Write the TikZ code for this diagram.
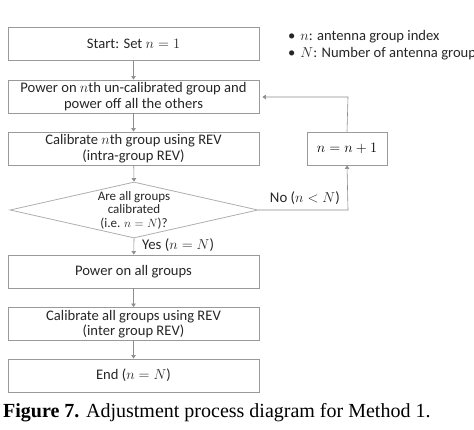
\documentclass[tikz,border=0pt]{standalone}
\usepackage{fontspec}
\setmainfont{Carlito}
\newfontfamily\capfont{Liberation Serif}
\usetikzlibrary{arrows.meta,shapes.geometric}
\definecolor{boxgray}{HTML}{9A9A9A}
\definecolor{linegray}{HTML}{8C8C8C}
\tikzset{
  flowbox/.style={draw=boxgray, line width=0.9pt, rectangle, minimum width=251pt, minimum height=33pt, inner sep=0pt, align=center, font=\fontsize{14.6}{15.5}\selectfont, text=black!85},
  incbox/.style={draw=boxgray, line width=0.9pt, rectangle, minimum width=80pt, minimum height=33pt, inner sep=0pt, align=center, font=\fontsize{15}{16}\selectfont},
  decision/.style={draw=boxgray!80, line width=0.8pt, diamond, aspect=4.43, minimum width=248pt, minimum height=56pt, inner sep=0pt, align=center, font=\fontsize{13}{13.5}\selectfont, text=black!85},
  flowarrow/.style={draw=linegray, line width=0.6pt, -{Triangle[width=4.5pt,length=3.5pt]}},
  lbl/.style={font=\fontsize{14.8}{15}\selectfont, text=black!85, inner sep=0pt},
  legend/.style={font=\fontsize{14.6}{15}\selectfont, text=black!85, anchor=base west, inner sep=0pt}
}
\begin{document}
\begin{tikzpicture}[x=1pt,y=-1pt]
\useasboundingbox (0,0) rectangle (474,430);
\clip (0,0) rectangle (474,430);
\node[flowbox] (start) at (133.5,44) {Start: Set $n=1$};
\node[flowbox] (power) at (133.5,96.5) {Power on $n$th un-calibrated group and\\power off all the others};
\node[flowbox] (calib) at (133.5,148.5) {Calibrate $n$th group using REV\\(intra-group REV)};
\node[decision] (dec) at (134,210) {Are all groups\\calibrated\\(i.e. $n=N$)?};
\node[flowbox] (pall) at (133.5,271.5) {Power on all groups};
\node[flowbox] (call) at (133.5,324) {Calibrate all groups using REV\\(inter group REV)};
\node[flowbox] (end) at (133.5,375.5) {End ($n=N$)};
\node[incbox] (inc) at (347,148.5) {$n=n+1$};
\coordinate (topturn) at (348,97);
\coordinate (decturn) at (348,210);
\draw[flowarrow] (start) -- (power);
\draw[flowarrow] (power) -- (calib);
\draw[flowarrow] (calib) -- (dec.north);
\draw[flowarrow] (dec.south) -- (pall);
\draw[flowarrow] (pall) -- (call);
\draw[flowarrow] (call) -- (end);
\draw[flowarrow] (dec.east) -- (decturn) -- (inc.south);
\draw[flowarrow] (inc.north) -- (topturn) -- ([xshift=3pt]power.east |- topturn);
\node[lbl, anchor=base east] (nolbl) at (340,203) {No ($n<N$)};
\node[lbl, anchor=base west] (yeslbl) at (142,250) {Yes ($n=N$)};
\node[legend] (leg1) at (288,41) {\textbullet\hspace{5pt}$n$: antenna group index};
\node[legend] (leg2) at (288,58) {\textbullet\hspace{5pt}$N$: Number of antenna groups};
\node[anchor=base west, inner sep=0pt, font=\capfont\fontsize{20}{22}\selectfont] (cap) at (3,417) {\textbf{Figure 7.} Adjustment process diagram for Method 1.};
\end{tikzpicture}
\end{document}
